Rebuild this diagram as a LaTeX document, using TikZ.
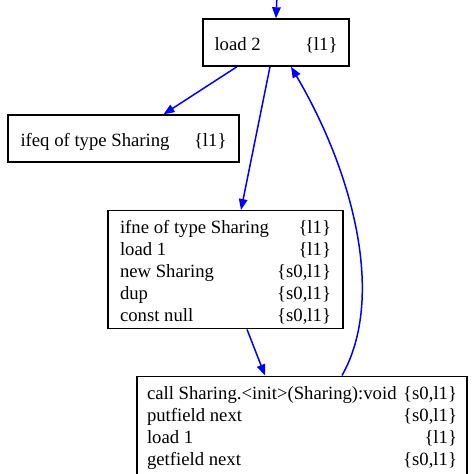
\documentclass[tikz,border=0pt]{standalone}
\usepackage{fontspec}
\setmainfont{Liberation Serif}
\usepackage{xcolor}
\definecolor{cFlow}{HTML}{0000FF}
\definecolor{cLine}{HTML}{000000}
\usepackage{tikz}
\usetikzlibrary{positioning,arrows.meta,calc}
\tikzset{
  node-box/.style={draw=cLine,line width=1.4pt,fill=white,inner xsep=0pt,
    inner ysep=4pt,font=\fontsize{18.7}{22}\selectfont},
  arrow/.style={-{Triangle[length=11pt,width=8.5pt]},line width=1.5pt,draw=cFlow},
}
% one column for the instruction, one for the set of locals
\newcommand{\codetab}[2]{\raisebox{-3.5pt}[\height][\depth]{%
  \begin{tabular*}{#1}{@{}l@{\extracolsep{\fill}}r@{}}#2\end{tabular*}}}

\begin{document}
\begin{tikzpicture}[x=1pt,y=-1pt]
  \clip (0,0) rectangle (474,474);
  \fill[white] (0,0) rectangle (474,474);
  \node[node-box,minimum width=146pt,minimum height=47pt]
    (load2) at (276,42.5) {\codetab{123pt}{load 2 & \{l1\}}};
  \node[node-box,minimum width=231pt,minimum height=47pt]
    (ifeq) at (123.5,138.5) {\codetab{206pt}{ifeq of type Sharing & \{l1\}}};
  \node[node-box,minimum width=235pt,minimum height=118pt,anchor=north]
    (ifne) at (225.5,210) {\codetab{211pt}{%
      ifne of type Sharing & \{l1\}\\
      load 1 & \{l1\}\\
      new Sharing & \{s0,l1\}\\
      dup & \{s0,l1\}\\
      const null & \{s0,l1\}}};
  \node[node-box,minimum width=330pt,anchor=north]
    (call) at (302,375.5) {\codetab{310pt}{%
      call Sharing.<init>(Sharing):void & \{s0,l1\}\\
      putfield next & \{s0,l1\}\\
      load 1 & \{l1\}\\
      getfield next & \{s0,l1\}\\
      store 1 & \{s0,l1\}}};
  \coordinate (entry) at (277,-5);
  \draw[arrow] (entry) -- (load2.north);
  \draw[arrow] ([xshift=-39pt]load2.south) -- ([xshift=40pt]ifeq.north);
  \draw[arrow] ([xshift=-6pt]load2.south) -- ([xshift=15.5pt]ifne.north);
  \draw[arrow] ([xshift=21.5pt]ifne.south) -- ([xshift=-37pt]call.north);
  \draw[arrow] ([xshift=40pt]call.north) .. controls +(43,-76) and +(64,109) ..
    ([xshift=15pt]load2.south);
\end{tikzpicture}
\end{document}
